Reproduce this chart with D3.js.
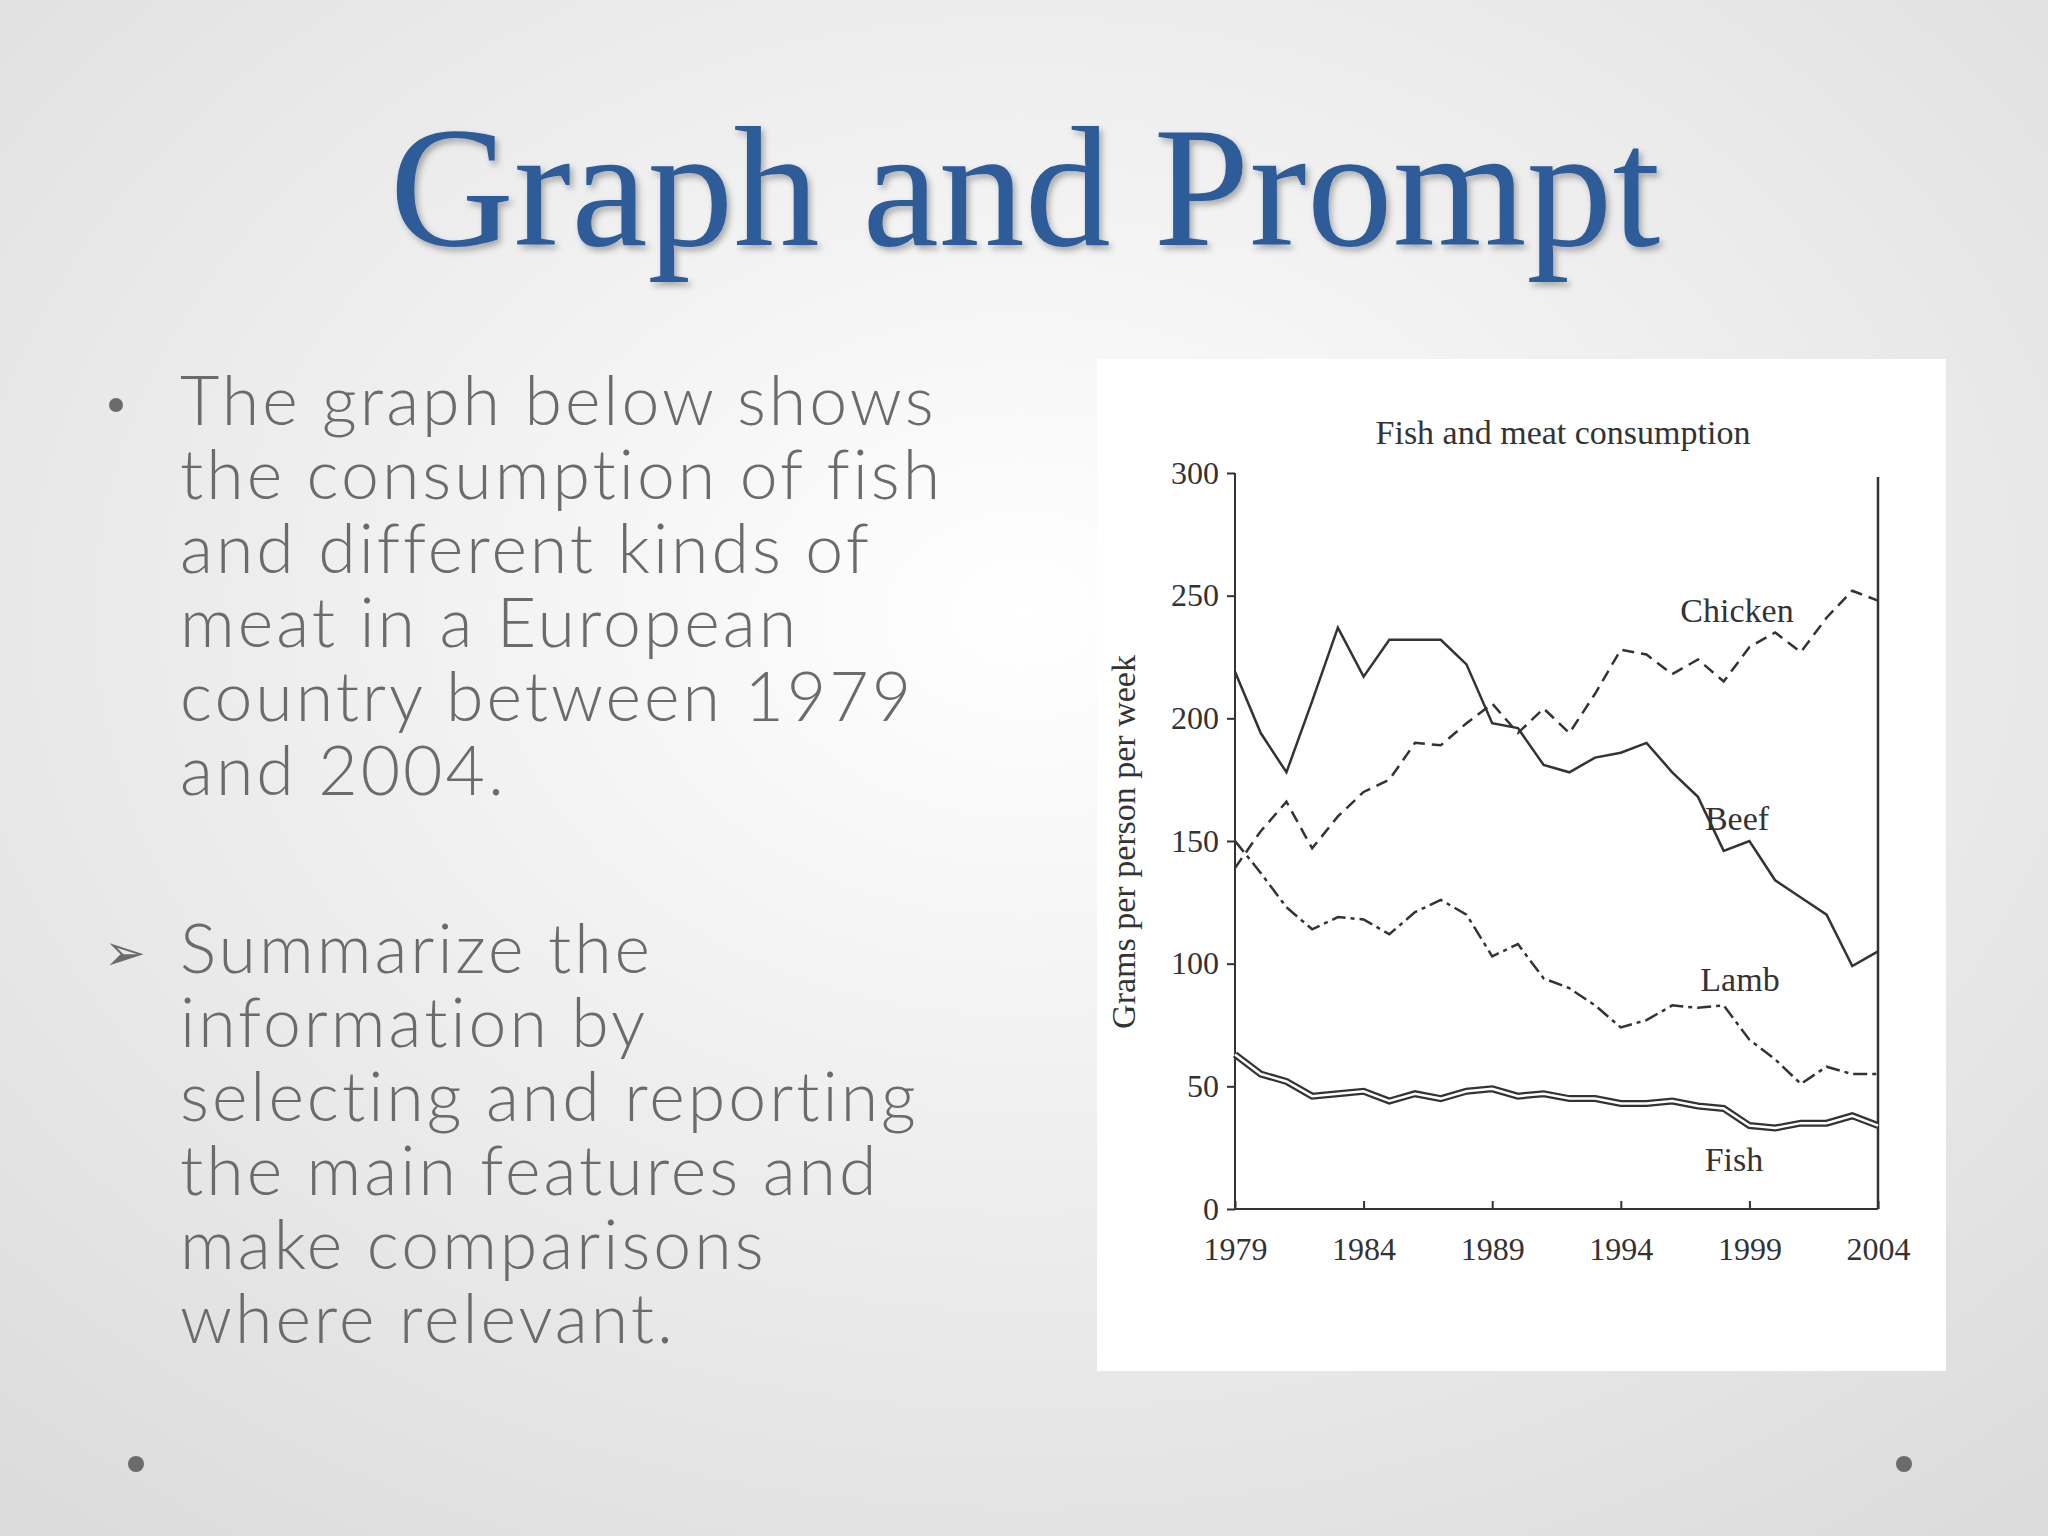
<!DOCTYPE html>
<html><head><meta charset="utf-8">
<script src="https://cdn.jsdelivr.net/npm/d3@7"></script>
<style>body{margin:0;overflow:hidden}</style>
</head><body><div id="chart"></div>
<script>
const years = d3.range(1979, 2005);
const beef = [219,194,178,207,237,217,232,232,232,222,198,196,181,178,184,186,190,178,168,146,150,134,127,120,99,105];
const chicken = [139,154,166,147,160,170,175,190,189,198,206,194,204,194,210,228,226,218,224,215,229,235,227,241,252,248];
const lamb = [150,137,123,114,119,118,112,121,126,120,103,108,94,90,83,74,77,83,82,83,69,61,51,58,55,55];
const fish = [63,55,52,46,47,48,44,47,45,48,49,46,47,45,45,43,43,44,42,41,34,33,35,35,38,34];
const yTicks = [0,50,100,150,200,250,300];
const xTicks = [1979,1984,1989,1994,1999,2004];
const bullets = ["The graph below shows","the consumption of fish","and different kinds of","meat in a European","country between 1979","and 2004."];
const prompt = ["Summarize the","information by","selecting and reporting","the main features and","make comparisons","where relevant."];

const W = 2048, H = 1536;
const svg = d3.select('#chart').append('svg').attr('width', W).attr('height', H);
const defs = svg.append('defs');
const g = defs.append('radialGradient').attr('id','bg').attr('cx','50%').attr('cy','40%').attr('r','75%');
g.append('stop').attr('offset','0%').attr('stop-color','#ffffff');
g.append('stop').attr('offset','100%').attr('stop-color','#dcdcdc');
svg.append('rect').attr('width',W).attr('height',H).attr('fill','url(#bg)');
const f = defs.append('filter').attr('id','sh');
f.append('feDropShadow').attr('dx',3).attr('dy',4).attr('stdDeviation',3).attr('flood-color','#000').attr('flood-opacity',0.3);

svg.append('text').attr('x',1025).attr('y',245).attr('text-anchor','middle')
  .attr('font-family','Liberation Serif').attr('font-size',172).attr('fill','#2d5b98')
  .attr('filter','url(#sh)').text('Graph and Prompt');

const tf = "'Lato', 'Open Sans', sans-serif";
const para = (lines, y0) => lines.forEach((t,i)=>svg.append('text').attr('x',180).attr('y',y0+i*74)
  .attr('font-family',tf).attr('font-weight',300).attr('letter-spacing',3)
  .attr('font-size',68).attr('fill','#6b6b6b').text(t));
para(bullets, 425);
para(prompt, 973);
svg.append('circle').attr('cx',116).attr('cy',405).attr('r',7).attr('fill','#6b6b6b');
svg.append('text').attr('x',104).attr('y',970).attr('font-family','DejaVu Sans').attr('font-size',50).attr('fill','#6b6b6b').text('➢');
[136,1904].forEach(x=>svg.append('circle').attr('cx',x).attr('cy',1464).attr('r',8).attr('fill','#6b6b6b'));

// chart panel
svg.append('rect').attr('x',1097).attr('y',359).attr('width',849).attr('height',1012).attr('fill','#fff');
const x = d3.scaleLinear().domain([1979,2004]).range([1235,1878]);
const y = d3.scaleLinear().domain([0,300]).range([1209,473]);
const serif = 'Liberation Serif', ink = '#333';
const ya = svg.append('g').attr('transform','translate(1235,0)')
  .call(d3.axisLeft(y).tickValues(yTicks).tickSize(8).tickPadding(8));
const xa = svg.append('g').attr('transform','translate(0,1209)')
  .call(d3.axisBottom(x).tickValues(xTicks).tickFormat(d3.format('d')).tickSize(-8).tickPadding(28));
[ya,xa].forEach(a=>{a.selectAll('path,line').attr('stroke',ink).attr('stroke-width',2);
  a.selectAll('text').attr('font-family',serif).attr('font-size',32).attr('fill',ink);});
xa.select('.domain').attr('d','M1235,0H1878');
ya.select('.domain').attr('d','M0,1209V473');
svg.append('line').attr('x1',x(2004)).attr('x2',x(2004)).attr('y1',477).attr('y2',1209).attr('stroke',ink).attr('stroke-width',2.5);

svg.append('text').attr('x',1563).attr('y',444).attr('text-anchor','middle').attr('font-family',serif)
  .attr('font-size',34).attr('fill',ink).text('Fish and meat consumption');
svg.append('text').attr('transform','translate(1135,842) rotate(-90)').attr('text-anchor','middle')
  .attr('font-family',serif).attr('font-size',34).attr('fill',ink).text('Grams per person per week');

const line = d3.line().x((d,i)=>x(years[i])).y(d=>y(d));
svg.append('path').attr('d',line(fish)).attr('fill','none').attr('stroke',ink).attr('stroke-width',7);
svg.append('path').attr('d',line(fish)).attr('fill','none').attr('stroke','#fff').attr('stroke-width',2.5);
svg.append('path').attr('d',line(beef)).attr('fill','none').attr('stroke',ink).attr('stroke-width',2.5);
svg.append('path').attr('d',line(chicken)).attr('fill','none').attr('stroke',ink).attr('stroke-width',2.5).attr('stroke-dasharray','12,7');
svg.append('path').attr('d',line(lamb)).attr('fill','none').attr('stroke',ink).attr('stroke-width',2.5).attr('stroke-dasharray','14,5,4,5');

[['Chicken',1737,622],['Beef',1737,830],['Lamb',1740,991],['Fish',1734,1171]].forEach(([t,cx,cy])=>
  svg.append('text').attr('x',cx).attr('y',cy).attr('text-anchor','middle').attr('font-family',serif)
    .attr('font-size',34).attr('fill',ink).text(t));
</script></body></html>
